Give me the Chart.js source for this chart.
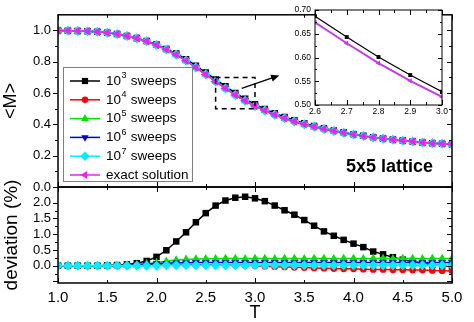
<!DOCTYPE html>
<html>
<head>
<meta charset="utf-8">
<script src="https://cdn.jsdelivr.net/npm/chart.js@4.4.0/dist/chart.umd.min.js"></script>
<style>
  html, body { margin: 0; padding: 0; background: #fff; }
  #wrap { position: relative; width: 474px; height: 322px; overflow: hidden; }
  #wrap canvas { position: absolute; }
</style>
</head>
<body>
<div id="wrap">
  <canvas id="magChart"  width="474" height="322" style="left:0;top:0"></canvas>
  <canvas id="devChart"  width="474" height="322" style="left:0;top:0"></canvas>
  <canvas id="zoomChart" width="172" height="122" style="left:280px;top:0"></canvas>
</div>
<script>
// ── Data ────────────────────────────────────────────────────────────
const temps = [1.0, 1.1, 1.2, 1.3, 1.4, 1.5, 1.6, 1.7, 1.8, 1.9,
               2.0, 2.1, 2.2, 2.3, 2.4, 2.5, 2.6, 2.7, 2.8, 2.9,
               3.0, 3.1, 3.2, 3.3, 3.4, 3.5, 3.6, 3.7, 3.8, 3.9,
               4.0, 4.1, 4.2, 4.3, 4.4, 4.5, 4.6, 4.7, 4.8, 4.9, 5.0];

// <M> exact solution, 5x5 lattice
const mExact = [0.999, 0.998, 0.997, 0.995, 0.991, 0.985, 0.977, 0.965, 0.950, 0.931,
                0.907, 0.878, 0.845, 0.807, 0.764, 0.719, 0.674, 0.630, 0.588, 0.551,
                0.517, 0.488, 0.462, 0.439, 0.419, 0.401, 0.385, 0.371, 0.358, 0.346,
                0.335, 0.325, 0.317, 0.309, 0.302, 0.296, 0.290, 0.285, 0.280, 0.276, 0.272];

// <M> with 10^3 sweeps
const m1e3 = [0.999, 0.998, 0.997, 0.995, 0.991, 0.985, 0.977, 0.965, 0.951, 0.932,
              0.910, 0.882, 0.852, 0.816, 0.775, 0.731, 0.687, 0.643, 0.601, 0.563,
              0.528, 0.498, 0.471, 0.447, 0.426, 0.407, 0.390, 0.375, 0.361, 0.349,
              0.337, 0.327, 0.318, 0.310, 0.303, 0.297, 0.290, 0.285, 0.280, 0.276, 0.272];

// deviation from exact solution (%)
const dev1e3 = [0, 0, 0, 0, 0, 0.01, 0.02, 0.04, 0.08, 0.15,
                0.28, 0.49, 0.77, 1.06, 1.38, 1.67, 1.91, 2.07, 2.16, 2.19,
                2.14, 2.05, 1.91, 1.76, 1.62, 1.45, 1.27, 1.09, 0.95, 0.82,
                0.70, 0.59, 0.45, 0.36, 0.27, 0.19, 0.13, 0.08, 0.03, 0.00, -0.03];
const dev1e4 = [0, 0, 0, 0, 0, 0, 0, 0.01, 0.02, 0.03,
                0.04, 0.04, 0.04, 0.04, 0.03, 0.03, 0.03, 0.02, 0.02, 0.01,
                0.00, -0.02, -0.03, -0.04, -0.05, -0.06, -0.07, -0.08, -0.09, -0.10,
                -0.10, -0.11, -0.12, -0.12, -0.13, -0.13, -0.14, -0.14, -0.15, -0.16, -0.17];
const dev1e5 = [0, 0, 0, 0, 0, 0, 0, 0.01, 0.03, 0.06,
                0.10, 0.14, 0.18, 0.20, 0.21, 0.22, 0.22, 0.23, 0.23, 0.22,
                0.23, 0.23, 0.22, 0.23, 0.23, 0.22, 0.23, 0.23, 0.22, 0.23,
                0.23, 0.22, 0.23, 0.23, 0.22, 0.23, 0.23, 0.22, 0.23, 0.23, 0.23];
const dev1e6 = [0, 0, 0, 0, 0, 0, 0, 0.01, 0.03, 0.05,
                0.07, 0.08, 0.09, 0.09, 0.10, 0.10, 0.10, 0.10, 0.10, 0.10,
                0.10, 0.10, 0.10, 0.10, 0.10, 0.10, 0.10, 0.10, 0.10, 0.10,
                0.10, 0.10, 0.10, 0.10, 0.10, 0.10, 0.10, 0.10, 0.10, 0.10, 0.10];
const dev1e7 = [0, 0, 0, 0, 0, 0, 0, 0, 0, 0,
                0, 0.01, 0.01, 0.01, 0.01, 0.01, 0.01, 0.01, 0.01, 0.01,
                0.01, 0.01, 0.01, 0.01, 0.01, 0.01, 0.01, 0.01, 0.01, 0.01,
                0.01, 0.01, 0.01, 0.01, 0.01, 0.01, 0.01, 0.01, 0.01, 0.01, 0.01];

// legend: sweeps exponent, last entry is the exact curve
const sweepExp = ['3', '4', '5', '6', '7'];
const exactLabel = 'exact solution';

// ── Styles ──────────────────────────────────────────────────────────
const FONT   = "'Liberation Sans', Arial, sans-serif";
const colors  = ['#000000', '#ff0000', '#00e000', '#0000d8', '#00eeff', '#ee22ee'];
const markers = ['rect', 'circle', 'triangle', 'triangle', 'rectRot', 'triangle'];
const turns   = [0, 0, 0, 180, 0, -90];
const sizes   = [4.6, 3.4, 4.8, 4.5, 5.0, 4.9];

// panel edges (px)
const LEFT = 58, RIGHT = 452, TOP = 3, MID = 187, BOTTOM = 283;

function makeSet(values, i, scale = 1) {
    return {
        data: temps.map((t, k) => ({ x: t, y: values[k] })),
        borderColor: colors[i],
        backgroundColor: colors[i],
        borderWidth: 1.5,
        pointStyle: markers[i],
        pointRotation: turns[i],
        pointRadius: sizes[i] * scale,
        pointBorderWidth: 0,
        pointBackgroundColor: colors[i],
        order: 5 - i,
        tension: 0
    };
}

// frame + tick marks drawn Origin style
function framePlugin(o) {
    return {
        id: 'frame',
        afterDraw(chart) {
            const { ctx, chartArea: a, scales: { x, y } } = chart;
            ctx.save();
            ctx.strokeStyle = '#000';
            ctx.lineWidth = o.width;
            ctx.strokeRect(a.left, a.top, a.right - a.left, a.bottom - a.top);
            ctx.lineWidth = 1;
            ctx.beginPath();
            o.xMarks.forEach(([v, len]) => {
                const px = Math.round(x.getPixelForValue(v)) + 0.5;
                if (o.xBottom) { ctx.moveTo(px, a.bottom); ctx.lineTo(px, a.bottom - len); }
                if (o.xTop)    { ctx.moveTo(px, a.top);    ctx.lineTo(px, a.top + len); }
            });
            o.yMarks.forEach(([v, len]) => {
                const py = Math.round(y.getPixelForValue(v)) + 0.5;
                ctx.moveTo(a.left, py); ctx.lineTo(a.left - len * o.yOut, py);
                if (o.yRight) { ctx.moveTo(a.right, py); ctx.lineTo(a.right - len, py); }
            });
            ctx.stroke();
            ctx.restore();
        }
    };
}

function marks(from, to, step, longEvery) {
    const out = [];
    for (let k = 0; from + k * step <= to + 1e-9; k++) {
        out.push([from + k * step, k % longEvery === 0 ? 5 : 3]);
    }
    return out;
}

// ── Top panel: <M> ──────────────────────────────────────────────────
function initMagChart() {
    const magSeries = [m1e3, mExact, mExact, mExact, mExact, mExact];

    const extras = {
        id: 'extras',
        afterDatasetsDraw(chart) {
            const { ctx, scales: { x, y } } = chart;
            ctx.save();
            // dashed zoom box
            ctx.strokeStyle = '#000';
            ctx.lineWidth = 1.5;
            ctx.setLineDash([5, 4]);
            const x0 = x.getPixelForValue(2.6), x1 = x.getPixelForValue(3.0);
            const y0 = y.getPixelForValue(0.7), y1 = y.getPixelForValue(0.5);
            ctx.strokeRect(x0, y0, x1 - x0, y1 - y0);
            ctx.setLineDash([]);
            // arrow to the inset
            const ax = x.getPixelForValue(2.865), ay = y.getPixelForValue(0.63);
            const bx = x.getPixelForValue(3.247), by = y.getPixelForValue(0.713);
            const ang = Math.atan2(by - ay, bx - ax);
            ctx.beginPath();
            ctx.moveTo(ax, ay);
            ctx.lineTo(bx - 6 * Math.cos(ang), by - 6 * Math.sin(ang));
            ctx.stroke();
            ctx.fillStyle = '#000';
            ctx.beginPath();
            ctx.moveTo(bx, by);
            ctx.lineTo(bx - 9 * Math.cos(ang - 0.4), by - 9 * Math.sin(ang - 0.4));
            ctx.lineTo(bx - 9 * Math.cos(ang + 0.4), by - 9 * Math.sin(ang + 0.4));
            ctx.closePath();
            ctx.fill();
            ctx.restore();
        },
        afterDraw(chart) {
            const ctx = chart.ctx;
            ctx.save();
            // legend box
            ctx.fillStyle = '#fff';
            ctx.strokeStyle = '#808080';
            ctx.lineWidth = 1;
            ctx.fillRect(63.5, 67.5, 129, 114);
            ctx.strokeRect(63.5, 67.5, 129, 114);
            ctx.textBaseline = 'middle';
            for (let i = 0; i < 6; i++) {
                const yy = 81 + i * 18.8;
                ctx.strokeStyle = colors[i];
                ctx.lineWidth = 1.5;
                ctx.beginPath();
                ctx.moveTo(70, yy); ctx.lineTo(100, yy);
                ctx.stroke();
                ctx.fillStyle = colors[i];
                Chart.helpers.drawPoint(ctx, {
                    pointStyle: markers[i], radius: sizes[i] * 0.95, rotation: turns[i], borderWidth: 0
                }, 85, yy);
                ctx.fillStyle = '#000';
                ctx.font = '13.5px ' + FONT;
                if (i < sweepExp.length) {
                    ctx.fillText('10', 106, yy);
                    const w = ctx.measureText('10').width;
                    ctx.font = '9px ' + FONT;
                    ctx.fillText(sweepExp[i], 106 + w + 0.5, yy - 5);
                    const w2 = ctx.measureText(sweepExp[i]).width;
                    ctx.font = '13.5px ' + FONT;
                    ctx.fillText(' sweeps', 106 + w + w2 + 1, yy);
                } else {
                    ctx.fillText(exactLabel, 106, yy);
                }
            }
            // lattice label
            ctx.font = 'bold 18px ' + FONT;
            ctx.fillText('5x5 lattice', 346, 167);
            ctx.restore();
        }
    };

    new Chart(document.getElementById('magChart'), {
        type: 'line',
        data: { datasets: magSeries.map((v, i) => makeSet(v, i)) },
        options: {
            responsive: false,
            animation: false,
            layout: { padding: { left: 0, right: 474 - RIGHT, top: TOP, bottom: 322 - MID } },
            plugins: { legend: { display: false }, tooltip: { enabled: false } },
            scales: {
                x: { type: 'linear', min: 1, max: 5, display: false },
                y: {
                    type: 'linear', min: 0, max: 1.1,
                    afterFit: (s) => { s.width = LEFT; },
                    afterBuildTicks: (s) => { s.ticks = s.ticks.filter(t => t.value <= 1.0001); },
                    ticks: {
                        stepSize: 0.2, padding: 7, color: '#000',
                        font: { family: FONT, size: 13 },
                        callback: (v) => v.toFixed(1)
                    },
                    grid: { display: false, drawTicks: false },
                    border: { display: false },
                    title: {
                        display: true, text: '<M>', color: '#000', padding: 0,
                        font: { family: FONT, size: 18, lineHeight: 1.2 }
                    }
                }
            }
        },
        plugins: [framePlugin({
            width: 1.5, xBottom: true, xTop: true, yRight: true, yOut: 1,
            xMarks: marks(1, 5, 0.5, 2), yMarks: marks(0, 1.0, 0.1, 2)
        }), extras]
    });
}

// ── Bottom panel: deviation (%) ─────────────────────────────────────
function initDevChart() {
    const devSeries = [dev1e3, dev1e4, dev1e5, dev1e6, dev1e7];

    new Chart(document.getElementById('devChart'), {
        type: 'line',
        data: { datasets: devSeries.map((v, i) => makeSet(v, i)) },
        options: {
            responsive: false,
            animation: false,
            layout: { padding: { left: 0, right: 474 - RIGHT, top: MID, bottom: 0 } },
            plugins: { legend: { display: false }, tooltip: { enabled: false } },
            scales: {
                x: {
                    type: 'linear', min: 1, max: 5,
                    afterFit: (s) => { s.height = 322 - BOTTOM; },
                    ticks: {
                        stepSize: 0.5, padding: 6, color: '#000', maxRotation: 0,
                        font: { family: FONT, size: 15 },
                        callback: (v) => v.toFixed(1)
                    },
                    grid: { display: false, drawTicks: false },
                    border: { display: false },
                    title: {
                        display: true, text: 'T', color: '#000', padding: 0,
                        font: { family: FONT, size: 18, lineHeight: 1 }
                    }
                },
                y: {
                    type: 'linear', min: -0.55, max: 2.5,
                    afterFit: (s) => { s.width = LEFT; },
                    afterBuildTicks: (s) => {
                        s.ticks = s.ticks.filter(t => t.value >= -0.5001 && t.value <= 2.0001);
                    },
                    ticks: {
                        stepSize: 0.5, padding: 7, color: '#000',
                        font: { family: FONT, size: 13 },
                        callback: (v) => v.toFixed(1)
                    },
                    grid: { display: false, drawTicks: false },
                    border: { display: false },
                    title: {
                        display: true, text: 'deviation (%)', color: '#000', padding: 0,
                        font: { family: FONT, size: 19, lineHeight: 1.2 }
                    }
                }
            }
        },
        plugins: [framePlugin({
            width: 1.5, xBottom: true, xTop: true, yRight: true, yOut: 1,
            xMarks: marks(1, 5, 0.5, 2), yMarks: marks(-0.5, 2.0, 0.25, 2)
        })]
    });
}

// ── Inset: zoom on 2.6 < T < 3.0 ────────────────────────────────────
function initZoomChart() {
    const sets = [makeSet(m1e3, 0, 0.6), makeSet(mExact, 5, 0.62)];
    sets[0].borderWidth = 1.2;
    sets[1].borderWidth = 2;
    sets[1].borderColor = '#c03ee6';
    sets[1].pointBackgroundColor = '#c03ee6';

    const bg = {
        id: 'insetBg',
        beforeDatasetsDraw(chart) {
            const { ctx, chartArea: a } = chart;
            ctx.save();
            ctx.fillStyle = '#fff';
            ctx.fillRect(a.left, a.top, a.right - a.left, a.bottom - a.top);
            ctx.restore();
        }
    };

    new Chart(document.getElementById('zoomChart'), {
        type: 'line',
        data: { datasets: sets },
        options: {
            responsive: false,
            animation: false,
            layout: { padding: { left: 0, right: 10, top: 10, bottom: 0 } },
            plugins: { legend: { display: false }, tooltip: { enabled: false } },
            scales: {
                x: {
                    type: 'linear', min: 2.6, max: 3.0,
                    afterFit: (s) => { s.height = 17; },
                    ticks: {
                        stepSize: 0.1, padding: 2, color: '#000', maxRotation: 0,
                        font: { family: FONT, size: 8.5 },
                        callback: (v) => v.toFixed(1)
                    },
                    grid: { display: false, drawTicks: false },
                    border: { display: false }
                },
                y: {
                    type: 'linear', min: 0.5, max: 0.7,
                    afterFit: (s) => { s.width = 35; },
                    ticks: {
                        stepSize: 0.05, padding: 4, color: '#000',
                        font: { family: FONT, size: 8.5 },
                        callback: (v) => v.toFixed(2)
                    },
                    grid: { display: false, drawTicks: false },
                    border: { display: false }
                }
            }
        },
        plugins: [bg, framePlugin({
            width: 1, xBottom: true, xTop: true, yRight: true, yOut: -1,
            xMarks: marks(2.6, 3.0, 0.05, 2), yMarks: marks(0.5, 0.7, 0.025, 2).map(([v, l]) => [v, l - 1])
        })]
    });
}

initMagChart();
initDevChart();
initZoomChart();
</script>
</body>
</html>
